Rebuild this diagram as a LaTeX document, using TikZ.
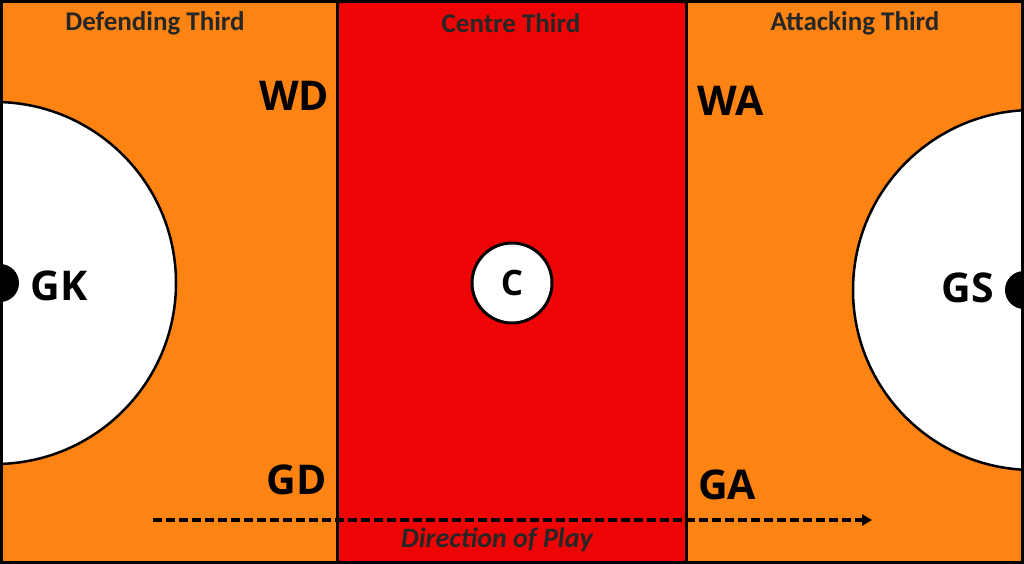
\documentclass[tikz,border=0pt]{standalone}
\usepackage{fontspec}
\setmainfont{Carlito}
\newfontfamily\playerfont{Open Sans}
\usetikzlibrary{arrows.meta}
\definecolor{courtorange}{RGB}{253,131,19}
\definecolor{courtred}{RGB}{238,4,4}
\tikzset{
  third/.style={font=\bfseries\fontsize{27}{27}\selectfont, text=black!85},
  player/.style={font=\playerfont\bfseries\fontsize{41}{41}\selectfont},
  playline/.style={line width=3.5pt, dash pattern=on 9pt off 4pt, -{Triangle[length=10pt,width=11pt]}},
}
\begin{document}
\begin{tikzpicture}[x=1pt, y=-1pt]
\useasboundingbox (0,0) rectangle (1024,564);
% court thirds
\filldraw [fill=courtorange, draw=black, line width=3pt] (1.5,1.5) rectangle (337,562.5);
\filldraw [fill=courtred, draw=black, line width=3pt] (337,1.5) rectangle (686,562.5);
\filldraw [fill=courtorange, draw=black, line width=3pt] (686,1.5) rectangle (1022.5,562.5);
% goal circles
\begin{scope}
\clip (1.5,1.5) rectangle (1022.5,562.5);
\filldraw [fill=white, draw=black, line width=2.5pt] (-5,283) circle[radius=181];
\filldraw [fill=white, draw=black, line width=2.5pt] (1033,290) circle[radius=180];
\fill (0,283) circle[radius=19];
\fill (1024,290) circle[radius=19];
\end{scope}
\draw [line width=3.5pt] (1.5,1.5) rectangle (1022.5,562.5);
% centre circle
\node[draw, circle, fill=white, line width=3pt, minimum size=80pt, inner sep=0,
  font=\playerfont\bfseries\fontsize{35}{35}\selectfont] (c) at (512,283) {C};
% thirds
\node[third] (defending) at (155,23) {Defending Third};
\node[third] (centre) at (511,23) {Centre Third};
\node[third] (attacking) at (855,23) {Attacking Third};
% players
\node[player] (wd) at (294,96) {WD};
\node[player] (wa) at (731,101) {WA};
\node[player] (gk) at (59,286) {GK};
\node[player] (gs) at (968,288) {GS};
\node[player] (gd) at (297,480) {GD};
\node[player] (ga) at (727,485) {GA};
% direction of play
\coordinate (playstart) at (153,520);
\coordinate (playend) at (872,520);
\draw[playline] (playstart) -- (playend);
\node[font=\bfseries\itshape\fontsize{28}{28}\selectfont, text=black!85] (direction) at (497,540) {Direction of Play};
\end{tikzpicture}
\end{document}
